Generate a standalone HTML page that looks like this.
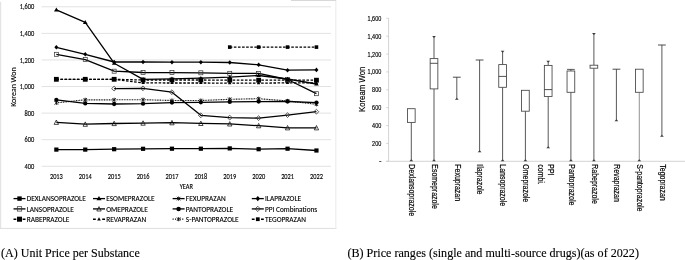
<!DOCTYPE html>
<html><head><meta charset="utf-8"><title>PPI price charts</title>
<style>
html,body{margin:0;padding:0;background:#fff;}
body{width:685px;height:260px;overflow:hidden;position:relative;}
svg{position:absolute;left:0;top:0;display:block;}
.lt{font-family:Carlito, 'Liberation Sans', sans-serif;fill:#000;stroke:#000;stroke-width:0.12px;}
.rt{font-family:'Liberation Sans', Arial, sans-serif;fill:#000;stroke:#000;stroke-width:0.18px;}
.cap{font-family:'Liberation Serif', 'Times New Roman', serif;fill:#000;stroke:#000;stroke-width:0.12px;}
</style></head><body>
<svg width="685" height="260" viewBox="0 0 685 260">
<rect x="0" y="1.8" width="1.2" height="227" fill="#e4e4e4"></rect>
<rect x="0" y="227.9" width="336.5" height="1" fill="#dedede"></rect>
<rect x="335.2" y="0" width="1.2" height="228.5" fill="#eeeeee"></rect>
<rect x="291" y="0" width="45" height="1" fill="#d8d8d8"></rect>
<line x1="41.5" y1="6.8" x2="331" y2="6.8" stroke="#dfdfdf" stroke-width="0.9"></line>
<line x1="41.5" y1="33.38" x2="331" y2="33.38" stroke="#dfdfdf" stroke-width="0.9"></line>
<line x1="41.5" y1="59.96" x2="331" y2="59.96" stroke="#dfdfdf" stroke-width="0.9"></line>
<line x1="41.5" y1="86.54" x2="331" y2="86.54" stroke="#dfdfdf" stroke-width="0.9"></line>
<line x1="41.5" y1="113.12" x2="331" y2="113.12" stroke="#dfdfdf" stroke-width="0.9"></line>
<line x1="41.5" y1="139.7" x2="331" y2="139.7" stroke="#dfdfdf" stroke-width="0.9"></line>
<line x1="41.5" y1="166.28" x2="331" y2="166.28" stroke="#dfdfdf" stroke-width="0.9"></line>
<text transform="translate(34.3,9.45) scale(0.88,1)" text-anchor="end" class="lt" font-size="7.3" textLength="16.59" lengthAdjust="spacingAndGlyphs">1,600</text>
<text transform="translate(34.3,36.03) scale(0.88,1)" text-anchor="end" class="lt" font-size="7.3" textLength="16.59" lengthAdjust="spacingAndGlyphs">1,400</text>
<text transform="translate(34.3,62.61) scale(0.88,1)" text-anchor="end" class="lt" font-size="7.3" textLength="16.59" lengthAdjust="spacingAndGlyphs">1,200</text>
<text transform="translate(34.3,89.19) scale(0.88,1)" text-anchor="end" class="lt" font-size="7.3" textLength="16.59" lengthAdjust="spacingAndGlyphs">1,000</text>
<text transform="translate(34.3,115.77) scale(0.88,1)" text-anchor="end" class="lt" font-size="7.3" textLength="11.08" lengthAdjust="spacingAndGlyphs">800</text>
<text transform="translate(34.3,142.35) scale(0.88,1)" text-anchor="end" class="lt" font-size="7.3" textLength="11.08" lengthAdjust="spacingAndGlyphs">600</text>
<text transform="translate(34.3,168.93) scale(0.88,1)" text-anchor="end" class="lt" font-size="7.3" textLength="11.08" lengthAdjust="spacingAndGlyphs">400</text>
<text transform="translate(15.6,87.1) rotate(-90) scale(0.88,1)" text-anchor="middle" class="lt" font-size="9" textLength="44.91" lengthAdjust="spacingAndGlyphs">Korean Won</text>
<text transform="translate(56.35,178.6) scale(0.87,1)" text-anchor="middle" class="lt" font-size="7.3" textLength="14.77" lengthAdjust="spacingAndGlyphs">2013</text>
<text transform="translate(85.25,178.6) scale(0.87,1)" text-anchor="middle" class="lt" font-size="7.3" textLength="14.77" lengthAdjust="spacingAndGlyphs">2014</text>
<text transform="translate(114.15,178.6) scale(0.87,1)" text-anchor="middle" class="lt" font-size="7.3" textLength="14.77" lengthAdjust="spacingAndGlyphs">2015</text>
<text transform="translate(143.05,178.6) scale(0.87,1)" text-anchor="middle" class="lt" font-size="7.3" textLength="14.77" lengthAdjust="spacingAndGlyphs">2016</text>
<text transform="translate(171.95,178.6) scale(0.87,1)" text-anchor="middle" class="lt" font-size="7.3" textLength="14.77" lengthAdjust="spacingAndGlyphs">2017</text>
<text transform="translate(200.85,178.6) scale(0.87,1)" text-anchor="middle" class="lt" font-size="7.3" textLength="14.77" lengthAdjust="spacingAndGlyphs">2018</text>
<text transform="translate(229.75,178.6) scale(0.87,1)" text-anchor="middle" class="lt" font-size="7.3" textLength="14.77" lengthAdjust="spacingAndGlyphs">2019</text>
<text transform="translate(258.65,178.6) scale(0.87,1)" text-anchor="middle" class="lt" font-size="7.3" textLength="14.77" lengthAdjust="spacingAndGlyphs">2020</text>
<text transform="translate(287.55,178.6) scale(0.87,1)" text-anchor="middle" class="lt" font-size="7.3" textLength="14.77" lengthAdjust="spacingAndGlyphs">2021</text>
<text transform="translate(316.45,178.6) scale(0.87,1)" text-anchor="middle" class="lt" font-size="7.3" textLength="14.77" lengthAdjust="spacingAndGlyphs">2022</text>
<text transform="translate(186.3,188.8) scale(0.9,1)" text-anchor="middle" class="lt" font-size="7.1" textLength="14.82" lengthAdjust="spacingAndGlyphs">YEAR</text>
<path d="M114.15,88.6 L143.05,88.3 L171.95,92.2 L200.85,115.3 L229.75,117.6 L258.65,118.1 L287.55,115.1 L316.45,111.7" fill="none" stroke="#000" stroke-width="1.3" stroke-linejoin="round"></path>
<path d="M114.15,86.2 L116.45,88.6 L114.15,91 L111.65,88.6Z" fill="none" stroke="#333" stroke-width="0.8"></path>
<path d="M143.05,85.9 L145.35,88.3 L143.05,90.7 L140.55,88.3Z" fill="none" stroke="#333" stroke-width="0.8"></path>
<path d="M171.95,89.8 L174.25,92.2 L171.95,94.6 L169.45,92.2Z" fill="none" stroke="#333" stroke-width="0.8"></path>
<path d="M200.85,112.9 L203.15,115.3 L200.85,117.7 L198.35,115.3Z" fill="none" stroke="#333" stroke-width="0.8"></path>
<path d="M229.75,115.2 L232.05,117.6 L229.75,120 L227.25,117.6Z" fill="none" stroke="#333" stroke-width="0.8"></path>
<path d="M258.65,115.7 L260.95,118.1 L258.65,120.5 L256.15,118.1Z" fill="none" stroke="#333" stroke-width="0.8"></path>
<path d="M287.55,112.7 L289.85,115.1 L287.55,117.5 L285.05,115.1Z" fill="none" stroke="#333" stroke-width="0.8"></path>
<path d="M316.45,109.3 L318.75,111.7 L316.45,114.1 L313.95,111.7Z" fill="none" stroke="#333" stroke-width="0.8"></path>
<path d="M56.35,122.3 L85.25,124.2 L114.15,123.5 L143.05,123.1 L171.95,122.7 L200.85,123.4 L229.75,123.9 L258.65,125.7 L287.55,127.8 L316.45,127.8" fill="none" stroke="#000" stroke-width="1.3" stroke-linejoin="round"></path>
<path d="M56.35,120 L58.55,124.4 L54.15,124.4Z" fill="none" stroke="#111" stroke-width="0.75"></path>
<path d="M85.25,121.9 L87.45,126.3 L83.05,126.3Z" fill="none" stroke="#111" stroke-width="0.75"></path>
<path d="M114.15,121.2 L116.35,125.6 L111.95,125.6Z" fill="none" stroke="#111" stroke-width="0.75"></path>
<path d="M143.05,120.8 L145.25,125.2 L140.85,125.2Z" fill="none" stroke="#111" stroke-width="0.75"></path>
<path d="M171.95,120.4 L174.15,124.8 L169.75,124.8Z" fill="none" stroke="#111" stroke-width="0.75"></path>
<path d="M200.85,121.1 L203.05,125.5 L198.65,125.5Z" fill="none" stroke="#111" stroke-width="0.75"></path>
<path d="M229.75,121.6 L231.95,126 L227.55,126Z" fill="none" stroke="#111" stroke-width="0.75"></path>
<path d="M258.65,123.4 L260.85,127.8 L256.45,127.8Z" fill="none" stroke="#111" stroke-width="0.75"></path>
<path d="M287.55,125.5 L289.75,129.9 L285.35,129.9Z" fill="none" stroke="#111" stroke-width="0.75"></path>
<path d="M316.45,125.5 L318.65,129.9 L314.25,129.9Z" fill="none" stroke="#111" stroke-width="0.75"></path>
<path d="M56.35,149.6 L85.25,149.6 L114.15,149.2 L143.05,148.8 L171.95,148.7 L200.85,148.7 L229.75,148.4 L258.65,149.2 L287.55,148.7 L316.45,150.5" fill="none" stroke="#000" stroke-width="1.3" stroke-linejoin="round"></path>
<rect x="54.25" y="147.5" width="4.2" height="4.2" fill="#000"></rect>
<rect x="83.15" y="147.5" width="4.2" height="4.2" fill="#000"></rect>
<rect x="112.05" y="147.1" width="4.2" height="4.2" fill="#000"></rect>
<rect x="140.95" y="146.7" width="4.2" height="4.2" fill="#000"></rect>
<rect x="169.85" y="146.6" width="4.2" height="4.2" fill="#000"></rect>
<rect x="198.75" y="146.6" width="4.2" height="4.2" fill="#000"></rect>
<rect x="227.65" y="146.3" width="4.2" height="4.2" fill="#000"></rect>
<rect x="256.55" y="147.1" width="4.2" height="4.2" fill="#000"></rect>
<rect x="285.45" y="146.6" width="4.2" height="4.2" fill="#000"></rect>
<rect x="314.35" y="148.4" width="4.2" height="4.2" fill="#000"></rect>
<path d="M56.35,102.9 L85.25,99.8 L114.15,99.8 L143.05,99.7 L171.95,100.5 L200.85,100.5 L229.75,99.3 L258.65,98.7 L287.55,100.9 L316.45,104.3" fill="none" stroke="#000" stroke-width="1.15" stroke-dasharray="0.9,0.75" stroke-linejoin="round"></path>
<path d="M54.6,101.15L58.1,104.65M58.1,101.15L54.6,104.65M56.35,100.85L56.35,104.95" stroke="#111" stroke-width="0.9" fill="none"></path>
<path d="M83.5,98.05L87,101.55M87,98.05L83.5,101.55M85.25,97.75L85.25,101.85" stroke="#111" stroke-width="0.9" fill="none"></path>
<path d="M112.4,98.05L115.9,101.55M115.9,98.05L112.4,101.55M114.15,97.75L114.15,101.85" stroke="#111" stroke-width="0.9" fill="none"></path>
<path d="M141.3,97.95L144.8,101.45M144.8,97.95L141.3,101.45M143.05,97.65L143.05,101.75" stroke="#111" stroke-width="0.9" fill="none"></path>
<path d="M170.2,98.75L173.7,102.25M173.7,98.75L170.2,102.25M171.95,98.45L171.95,102.55" stroke="#111" stroke-width="0.9" fill="none"></path>
<path d="M199.1,98.75L202.6,102.25M202.6,98.75L199.1,102.25M200.85,98.45L200.85,102.55" stroke="#111" stroke-width="0.9" fill="none"></path>
<path d="M228,97.55L231.5,101.05M231.5,97.55L228,101.05M229.75,97.25L229.75,101.35" stroke="#111" stroke-width="0.9" fill="none"></path>
<path d="M256.9,96.95L260.4,100.45M260.4,96.95L256.9,100.45M258.65,96.65L258.65,100.75" stroke="#111" stroke-width="0.9" fill="none"></path>
<path d="M285.8,99.15L289.3,102.65M289.3,99.15L285.8,102.65M287.55,98.85L287.55,102.95" stroke="#111" stroke-width="0.9" fill="none"></path>
<path d="M314.7,102.55L318.2,106.05M318.2,102.55L314.7,106.05M316.45,102.25L316.45,106.35" stroke="#111" stroke-width="0.9" fill="none"></path>
<path d="M56.35,99.9 L85.25,103.4 L114.15,104 L143.05,103.7 L171.95,102.6 L200.85,102.3 L229.75,101.9 L258.65,101.6 L287.55,101.5 L316.45,102.7" fill="none" stroke="#000" stroke-width="1.3" stroke-linejoin="round"></path>
<circle cx="56.35" cy="99.9" r="2.15" fill="#000"></circle>
<circle cx="85.25" cy="103.4" r="2.15" fill="#000"></circle>
<circle cx="114.15" cy="104" r="2.15" fill="#000"></circle>
<circle cx="143.05" cy="103.7" r="2.15" fill="#000"></circle>
<circle cx="171.95" cy="102.6" r="2.15" fill="#000"></circle>
<circle cx="200.85" cy="102.3" r="2.15" fill="#000"></circle>
<circle cx="229.75" cy="101.9" r="2.15" fill="#000"></circle>
<circle cx="258.65" cy="101.6" r="2.15" fill="#000"></circle>
<circle cx="287.55" cy="101.5" r="2.15" fill="#000"></circle>
<circle cx="316.45" cy="102.7" r="2.15" fill="#000"></circle>
<path d="M56.35,79.3 L85.25,79.3 L114.15,79.3 L143.05,82.9 L171.95,83 L200.85,83 L229.75,83.1 L258.65,83.1 L287.55,82.9 L316.45,82.9" fill="none" stroke="#000" stroke-width="1.3" stroke-dasharray="2.6,1.5" stroke-linejoin="round"></path>
<path d="M56.35,77.6 L58.05,80.4 L54.65,80.4Z" fill="#000"></path>
<path d="M85.25,77.6 L86.95,80.4 L83.55,80.4Z" fill="#000"></path>
<path d="M114.15,77.6 L115.85,80.4 L112.45,80.4Z" fill="#000"></path>
<path d="M143.05,81.2 L144.75,84 L141.35,84Z" fill="#000"></path>
<path d="M171.95,81.3 L173.65,84.1 L170.25,84.1Z" fill="#000"></path>
<path d="M200.85,81.3 L202.55,84.1 L199.15,84.1Z" fill="#000"></path>
<path d="M229.75,81.4 L231.45,84.2 L228.05,84.2Z" fill="#000"></path>
<path d="M258.65,81.4 L260.35,84.2 L256.95,84.2Z" fill="#000"></path>
<path d="M287.55,81.2 L289.25,84 L285.85,84Z" fill="#000"></path>
<path d="M316.45,81.2 L318.15,84 L314.75,84Z" fill="#000"></path>
<path d="M56.35,79.3 L85.25,79.3 L114.15,79.3 L143.05,80 L171.95,80 L200.85,80 L229.75,80.2 L258.65,80.2 L287.55,80.2 L316.45,80.2" fill="none" stroke="#000" stroke-width="1.3" stroke-dasharray="2.6,1.5" stroke-linejoin="round"></path>
<rect x="53.95" y="76.9" width="4.8" height="4.8" fill="#000"></rect>
<rect x="82.85" y="76.9" width="4.8" height="4.8" fill="#000"></rect>
<rect x="111.75" y="76.9" width="4.8" height="4.8" fill="#000"></rect>
<rect x="140.65" y="77.6" width="4.8" height="4.8" fill="#000"></rect>
<rect x="169.55" y="77.6" width="4.8" height="4.8" fill="#000"></rect>
<rect x="198.45" y="77.6" width="4.8" height="4.8" fill="#000"></rect>
<rect x="227.35" y="77.8" width="4.8" height="4.8" fill="#000"></rect>
<rect x="256.25" y="77.8" width="4.8" height="4.8" fill="#000"></rect>
<rect x="285.15" y="77.8" width="4.8" height="4.8" fill="#000"></rect>
<rect x="314.05" y="77.8" width="4.8" height="4.8" fill="#000"></rect>
<path d="M56.35,54.3 L85.25,59.6 L114.15,71.2 L143.05,72.5 L171.95,72.6 L200.85,72.8 L229.75,73.3 L258.65,73.4 L287.55,79.5 L316.45,93.7" fill="none" stroke="#000" stroke-width="1.3" stroke-linejoin="round"></path>
<rect x="54.35" y="52.3" width="4" height="4" fill="none" stroke="#333" stroke-width="0.7"></rect>
<rect x="83.25" y="57.6" width="4" height="4" fill="none" stroke="#333" stroke-width="0.7"></rect>
<rect x="112.15" y="69.2" width="4" height="4" fill="none" stroke="#333" stroke-width="0.7"></rect>
<rect x="141.05" y="70.5" width="4" height="4" fill="none" stroke="#333" stroke-width="0.7"></rect>
<rect x="169.95" y="70.6" width="4" height="4" fill="none" stroke="#333" stroke-width="0.7"></rect>
<rect x="198.85" y="70.8" width="4" height="4" fill="none" stroke="#333" stroke-width="0.7"></rect>
<rect x="227.75" y="71.3" width="4" height="4" fill="none" stroke="#333" stroke-width="0.7"></rect>
<rect x="256.65" y="71.4" width="4" height="4" fill="none" stroke="#333" stroke-width="0.7"></rect>
<rect x="285.55" y="77.5" width="4" height="4" fill="none" stroke="#333" stroke-width="0.7"></rect>
<rect x="314.45" y="91.7" width="4" height="4" fill="none" stroke="#333" stroke-width="0.7"></rect>
<path d="M56.35,9.9 L85.25,22.4 L114.15,63.2 L143.05,79.4 L171.95,78.8 L200.85,78.2 L229.75,77.2 L258.65,75.5 L287.55,79 L316.45,84" fill="none" stroke="#000" stroke-width="1.3" stroke-linejoin="round"></path>
<path d="M56.35,7.6 L58.65,11.5 L54.05,11.5Z" fill="#000"></path>
<path d="M85.25,20.1 L87.55,24 L82.95,24Z" fill="#000"></path>
<path d="M114.15,60.9 L116.45,64.8 L111.85,64.8Z" fill="#000"></path>
<path d="M143.05,77.1 L145.35,81 L140.75,81Z" fill="#000"></path>
<path d="M171.95,76.5 L174.25,80.4 L169.65,80.4Z" fill="#000"></path>
<path d="M200.85,75.9 L203.15,79.8 L198.55,79.8Z" fill="#000"></path>
<path d="M229.75,74.9 L232.05,78.8 L227.45,78.8Z" fill="#000"></path>
<path d="M258.65,73.2 L260.95,77.1 L256.35,77.1Z" fill="#000"></path>
<path d="M287.55,76.7 L289.85,80.6 L285.25,80.6Z" fill="#000"></path>
<path d="M316.45,81.7 L318.75,85.6 L314.15,85.6Z" fill="#000"></path>
<path d="M56.35,47.3 L85.25,54.3 L114.15,62 L143.05,62 L171.95,62.2 L200.85,62.2 L229.75,62.5 L258.65,64.8 L287.55,70.2 L316.45,69.9" fill="none" stroke="#000" stroke-width="1.3" stroke-linejoin="round"></path>
<path d="M56.35,45 L58.35,47.3 L56.35,49.6 L54.35,47.3Z" fill="#000"></path>
<path d="M85.25,52 L87.25,54.3 L85.25,56.6 L83.25,54.3Z" fill="#000"></path>
<path d="M114.15,59.7 L116.15,62 L114.15,64.3 L112.15,62Z" fill="#000"></path>
<path d="M143.05,59.7 L145.05,62 L143.05,64.3 L141.05,62Z" fill="#000"></path>
<path d="M171.95,59.9 L173.95,62.2 L171.95,64.5 L169.95,62.2Z" fill="#000"></path>
<path d="M200.85,59.9 L202.85,62.2 L200.85,64.5 L198.85,62.2Z" fill="#000"></path>
<path d="M229.75,60.2 L231.75,62.5 L229.75,64.8 L227.75,62.5Z" fill="#000"></path>
<path d="M258.65,62.5 L260.65,64.8 L258.65,67.1 L256.65,64.8Z" fill="#000"></path>
<path d="M287.55,67.9 L289.55,70.2 L287.55,72.5 L285.55,70.2Z" fill="#000"></path>
<path d="M316.45,67.6 L318.45,69.9 L316.45,72.2 L314.45,69.9Z" fill="#000"></path>
<path d="M229.75,47.1 L258.65,47.1 L287.55,47.1 L316.45,47.1" fill="none" stroke="#000" stroke-width="1.3" stroke-dasharray="2.6,1.5" stroke-linejoin="round"></path>
<rect x="227.95" y="45.3" width="3.6" height="3.6" fill="#000"></rect>
<rect x="256.85" y="45.3" width="3.6" height="3.6" fill="#000"></rect>
<rect x="285.75" y="45.3" width="3.6" height="3.6" fill="#000"></rect>
<rect x="314.65" y="45.3" width="3.6" height="3.6" fill="#000"></rect>
<path d="M13.5,198.6 L25.5,198.6" stroke="#000" stroke-width="1.3"></path>
<rect x="17.3" y="196.39" width="4.41" height="4.41" fill="#000"></rect>
<text transform="translate(26.7,201.35) scale(0.9,1)" class="lt" font-size="8.15" textLength="65.62" lengthAdjust="spacingAndGlyphs">DEXLANSOPRAZOLE</text>
<path d="M93,198.6 L105,198.6" stroke="#000" stroke-width="1.3"></path>
<path d="M99,196.07 L101.53,200.36 L96.47,200.36Z" fill="#000"></path>
<text transform="translate(106.2,201.35) scale(0.9,1)" class="lt" font-size="8.15" textLength="53.86" lengthAdjust="spacingAndGlyphs">ESOMEPRAZOLE</text>
<path d="M172.6,198.6 L184.6,198.6" stroke="#000" stroke-width="1.3"></path>
<path d="M176.85,196.85L180.35,200.35M180.35,196.85L176.85,200.35M178.6,196.55L178.6,200.65" stroke="#111" stroke-width="0.9" fill="none"></path>
<text transform="translate(185.8,201.35) scale(0.9,1)" class="lt" font-size="8.15" textLength="44.28" lengthAdjust="spacingAndGlyphs">FEXUPRAZAN</text>
<path d="M251.8,198.6 L263.8,198.6" stroke="#000" stroke-width="1.3"></path>
<path d="M257.8,196.07 L260,198.6 L257.8,201.13 L255.6,198.6Z" fill="#000"></path>
<text transform="translate(265,201.35) scale(0.9,1)" class="lt" font-size="8.15" textLength="40.06" lengthAdjust="spacingAndGlyphs">ILAPRAZOLE</text>
<path d="M13.5,208.9 L25.5,208.9" stroke="#000" stroke-width="1.3"></path>
<rect x="17.3" y="206.7" width="4.4" height="4.4" fill="none" stroke="#333" stroke-width="0.7"></rect>
<text transform="translate(26.7,211.65) scale(0.9,1)" class="lt" font-size="8.15" textLength="52.41" lengthAdjust="spacingAndGlyphs">LANSOPRAZOLE</text>
<path d="M93,208.9 L105,208.9" stroke="#000" stroke-width="1.3"></path>
<path d="M99,206.6 L101.2,211 L96.8,211Z" fill="none" stroke="#111" stroke-width="0.75"></path>
<text transform="translate(106.2,211.65) scale(0.9,1)" class="lt" font-size="8.15" textLength="46.20" lengthAdjust="spacingAndGlyphs">OMEPRAZOLE</text>
<path d="M172.6,208.9 L184.6,208.9" stroke="#000" stroke-width="1.3"></path>
<circle cx="178.6" cy="208.9" r="2.26" fill="#000"></circle>
<text transform="translate(185.8,211.65) scale(0.9,1)" class="lt" font-size="8.15" textLength="52.58" lengthAdjust="spacingAndGlyphs">PANTOPRAZOLE</text>
<path d="M251.8,208.9 L263.8,208.9" stroke="#000" stroke-width="1.3"></path>
<path d="M257.8,206.26 L260.33,208.9 L257.8,211.54 L255.05,208.9Z" fill="none" stroke="#333" stroke-width="0.8"></path>
<text transform="translate(265,211.65) scale(0.9,1)" class="lt" font-size="8.15" textLength="58.03" lengthAdjust="spacingAndGlyphs">PPI Combinations</text>
<path d="M13.5,219.2 L16.3,219.2 M22.7,219.2 L25.5,219.2" stroke="#000" stroke-width="1.45"></path>
<rect x="16.98" y="216.68" width="5.04" height="5.04" fill="#000"></rect>
<text transform="translate(26.7,221.95) scale(0.9,1)" class="lt" font-size="8.15" textLength="47.42" lengthAdjust="spacingAndGlyphs">RABEPRAZOLE</text>
<path d="M93,219.2 L95.8,219.2 M102.2,219.2 L105,219.2" stroke="#000" stroke-width="1.45"></path>
<path d="M99,217.33 L100.87,220.41 L97.13,220.41Z" fill="#000"></path>
<text transform="translate(106.2,221.95) scale(0.9,1)" class="lt" font-size="8.15" textLength="44.45" lengthAdjust="spacingAndGlyphs">REVAPRAZAN</text>
<path d="M172.6,219.2 L184.6,219.2" stroke="#000" stroke-width="1.2" stroke-dasharray="1.1,1.3"></path>
<path d="M176.85,217.45L180.35,220.95M180.35,217.45L176.85,220.95M178.6,217.15L178.6,221.25" stroke="#111" stroke-width="0.9" fill="none"></path>
<text transform="translate(185.8,221.95) scale(0.9,1)" class="lt" font-size="8.15" textLength="58.78" lengthAdjust="spacingAndGlyphs">S-PANTOPRAZOLE</text>
<path d="M251.8,219.2 L254.6,219.2 M261,219.2 L263.8,219.2" stroke="#000" stroke-width="1.45"></path>
<rect x="255.91" y="217.31" width="3.78" height="3.78" fill="#000"></rect>
<text transform="translate(265,221.95) scale(0.9,1)" class="lt" font-size="8.15" textLength="45.48" lengthAdjust="spacingAndGlyphs">TEGOPRAZAN</text>
<line x1="388.6" y1="18.3" x2="388.6" y2="161.3" stroke="#c8c8c8" stroke-width="0.8"></line>
<line x1="386.3" y1="161.3" x2="685" y2="161.3" stroke="#c8c8c8" stroke-width="0.8"></line>
<line x1="386.3" y1="161.3" x2="388.6" y2="161.3" stroke="#c8c8c8" stroke-width="0.8"></line>
<text x="381.6" y="163.4" text-anchor="end" class="rt" font-size="7.5" textLength="2.50" lengthAdjust="spacingAndGlyphs">-</text>
<line x1="386.3" y1="143.43" x2="388.6" y2="143.43" stroke="#c8c8c8" stroke-width="0.8"></line>
<text transform="translate(381.3,145.88) scale(0.69,1)" text-anchor="end" class="rt" font-size="8" textLength="13.33" lengthAdjust="spacingAndGlyphs">200</text>
<line x1="386.3" y1="125.55" x2="388.6" y2="125.55" stroke="#c8c8c8" stroke-width="0.8"></line>
<text transform="translate(381.3,128) scale(0.69,1)" text-anchor="end" class="rt" font-size="8" textLength="13.33" lengthAdjust="spacingAndGlyphs">400</text>
<line x1="386.3" y1="107.68" x2="388.6" y2="107.68" stroke="#c8c8c8" stroke-width="0.8"></line>
<text transform="translate(381.3,110.13) scale(0.69,1)" text-anchor="end" class="rt" font-size="8" textLength="13.33" lengthAdjust="spacingAndGlyphs">600</text>
<line x1="386.3" y1="89.8" x2="388.6" y2="89.8" stroke="#c8c8c8" stroke-width="0.8"></line>
<text transform="translate(381.3,92.25) scale(0.69,1)" text-anchor="end" class="rt" font-size="8" textLength="13.33" lengthAdjust="spacingAndGlyphs">800</text>
<line x1="386.3" y1="71.93" x2="388.6" y2="71.93" stroke="#c8c8c8" stroke-width="0.8"></line>
<text transform="translate(381.3,74.38) scale(0.69,1)" text-anchor="end" class="rt" font-size="8" textLength="19.99" lengthAdjust="spacingAndGlyphs">1,000</text>
<line x1="386.3" y1="54.05" x2="388.6" y2="54.05" stroke="#c8c8c8" stroke-width="0.8"></line>
<text transform="translate(381.3,56.5) scale(0.69,1)" text-anchor="end" class="rt" font-size="8" textLength="19.99" lengthAdjust="spacingAndGlyphs">1,200</text>
<line x1="386.3" y1="36.18" x2="388.6" y2="36.18" stroke="#c8c8c8" stroke-width="0.8"></line>
<text transform="translate(381.3,38.63) scale(0.69,1)" text-anchor="end" class="rt" font-size="8" textLength="19.99" lengthAdjust="spacingAndGlyphs">1,400</text>
<line x1="386.3" y1="18.3" x2="388.6" y2="18.3" stroke="#c8c8c8" stroke-width="0.8"></line>
<text transform="translate(381.3,20.75) scale(0.69,1)" text-anchor="end" class="rt" font-size="8" textLength="19.99" lengthAdjust="spacingAndGlyphs">1,600</text>
<text transform="translate(364.7,89.3) rotate(-90)" text-anchor="middle" class="rt" font-size="9" textLength="45.5" lengthAdjust="spacingAndGlyphs">Koream Won</text>
<line x1="411.3" y1="122.4" x2="411.3" y2="161" stroke="#3a3a3a" stroke-width="0.85"></line>
<rect x="407.45" y="108.7" width="7.7" height="13.7" fill="#fff" stroke="#444" stroke-width="0.85"></rect>
<path d="M409.4,161.3 L413.2,161.3 L411.3,159.3Z" fill="#3a3a3a"></path>
<line x1="434" y1="36.9" x2="434" y2="58.6" stroke="#3a3a3a" stroke-width="0.85"></line>
<line x1="434" y1="88.9" x2="434" y2="161" stroke="#3a3a3a" stroke-width="0.85"></line>
<rect x="430.15" y="58.6" width="7.7" height="30.3" fill="#fff" stroke="#444" stroke-width="0.85"></rect>
<line x1="430.15" y1="63.3" x2="437.85" y2="63.3" stroke="#333" stroke-width="0.85"></line>
<path d="M432.1,36 L435.9,36 L434,38Z" fill="#3a3a3a"></path>
<path d="M432.1,161.3 L435.9,161.3 L434,159.3Z" fill="#3a3a3a"></path>
<line x1="456.8" y1="77.2" x2="456.8" y2="98.8" stroke="#3a3a3a" stroke-width="0.85"></line>
<line x1="452.9" y1="77.2" x2="460.7" y2="77.2" stroke="#3a3a3a" stroke-width="0.9"></line>
<path d="M454.9,99.7 L458.7,99.7 L456.8,97.7Z" fill="#3a3a3a"></path>
<line x1="479.6" y1="60" x2="479.6" y2="151.4" stroke="#3a3a3a" stroke-width="0.85"></line>
<line x1="475.7" y1="60" x2="483.5" y2="60" stroke="#3a3a3a" stroke-width="0.9"></line>
<path d="M477.7,152.3 L481.5,152.3 L479.6,150.3Z" fill="#3a3a3a"></path>
<line x1="502.6" y1="51.6" x2="502.6" y2="64.6" stroke="#3a3a3a" stroke-width="0.85"></line>
<line x1="502.6" y1="87.3" x2="502.6" y2="161" stroke="#3a3a3a" stroke-width="0.85"></line>
<rect x="498.75" y="64.6" width="7.7" height="22.7" fill="#fff" stroke="#444" stroke-width="0.85"></rect>
<line x1="498.75" y1="76.4" x2="506.45" y2="76.4" stroke="#333" stroke-width="0.85"></line>
<path d="M500.7,50.7 L504.5,50.7 L502.6,52.7Z" fill="#3a3a3a"></path>
<path d="M500.7,161.3 L504.5,161.3 L502.6,159.3Z" fill="#3a3a3a"></path>
<line x1="525.4" y1="111.2" x2="525.4" y2="161" stroke="#3a3a3a" stroke-width="0.85"></line>
<rect x="521.55" y="90.3" width="7.7" height="20.9" fill="#fff" stroke="#444" stroke-width="0.85"></rect>
<path d="M523.5,161.3 L527.3,161.3 L525.4,159.3Z" fill="#3a3a3a"></path>
<line x1="548.2" y1="61.6" x2="548.2" y2="65.4" stroke="#3a3a3a" stroke-width="0.85"></line>
<line x1="548.2" y1="96.5" x2="548.2" y2="147.3" stroke="#3a3a3a" stroke-width="0.85"></line>
<rect x="544.35" y="65.4" width="7.7" height="31.1" fill="#fff" stroke="#444" stroke-width="0.85"></rect>
<line x1="544.35" y1="89.6" x2="552.05" y2="89.6" stroke="#333" stroke-width="0.85"></line>
<path d="M546.3,60.7 L550.1,60.7 L548.2,62.7Z" fill="#3a3a3a"></path>
<path d="M546.3,148.2 L550.1,148.2 L548.2,146.2Z" fill="#3a3a3a"></path>
<line x1="570.9" y1="69.4" x2="570.9" y2="71" stroke="#3a3a3a" stroke-width="0.85"></line>
<line x1="570.9" y1="92.3" x2="570.9" y2="161" stroke="#3a3a3a" stroke-width="0.85"></line>
<rect x="567.05" y="71" width="7.7" height="21.3" fill="#fff" stroke="#444" stroke-width="0.85"></rect>
<line x1="567.05" y1="69.4" x2="574.75" y2="69.4" stroke="#333" stroke-width="0.8"></line>
<path d="M569,161.3 L572.8,161.3 L570.9,159.3Z" fill="#3a3a3a"></path>
<line x1="593.9" y1="33.9" x2="593.9" y2="65.2" stroke="#3a3a3a" stroke-width="0.85"></line>
<line x1="593.9" y1="68.2" x2="593.9" y2="161" stroke="#3a3a3a" stroke-width="0.85"></line>
<rect x="590.05" y="65.2" width="7.7" height="3" fill="#fff" stroke="#444" stroke-width="0.85"></rect>
<path d="M592,33 L595.8,33 L593.9,35Z" fill="#3a3a3a"></path>
<path d="M592,161.3 L595.8,161.3 L593.9,159.3Z" fill="#3a3a3a"></path>
<line x1="616.4" y1="69.2" x2="616.4" y2="120.3" stroke="#3a3a3a" stroke-width="0.85"></line>
<line x1="612.5" y1="69.2" x2="620.3" y2="69.2" stroke="#3a3a3a" stroke-width="0.9"></line>
<path d="M614.5,121.2 L618.3,121.2 L616.4,119.2Z" fill="#3a3a3a"></path>
<line x1="639.3" y1="92.3" x2="639.3" y2="161" stroke="#9a9a9a" stroke-width="1.1"></line>
<rect x="635.45" y="69.2" width="7.7" height="23.1" fill="#fff" stroke="#444" stroke-width="0.85"></rect>
<path d="M637.4,161.3 L641.2,161.3 L639.3,159.3Z" fill="#3a3a3a"></path>
<line x1="661.9" y1="45" x2="661.9" y2="135.8" stroke="#3a3a3a" stroke-width="0.85"></line>
<line x1="658" y1="45" x2="665.8" y2="45" stroke="#3a3a3a" stroke-width="0.9"></line>
<path d="M660,136.7 L663.8,136.7 L661.9,134.7Z" fill="#3a3a3a"></path>
<text transform="translate(409.1,164.3) rotate(90) scale(0.83,1)" class="rt" font-size="8.4" textLength="62.45" lengthAdjust="spacingAndGlyphs">Dexlansoprazole</text>
<text transform="translate(431.8,164.3) rotate(90) scale(0.83,1)" class="rt" font-size="8.4" textLength="53.59" lengthAdjust="spacingAndGlyphs">Esomeprazole</text>
<text transform="translate(454.6,164.3) rotate(90) scale(0.83,1)" class="rt" font-size="8.4" textLength="44.28" lengthAdjust="spacingAndGlyphs">Fexuprazan</text>
<text transform="translate(477.4,164.3) rotate(90) scale(0.83,1)" class="rt" font-size="8.4" textLength="36.35" lengthAdjust="spacingAndGlyphs">Ilaprazole</text>
<text transform="translate(500.4,164.3) rotate(90) scale(0.83,1)" class="rt" font-size="8.4" textLength="50.35" lengthAdjust="spacingAndGlyphs">Lansoprazole</text>
<text transform="translate(523.2,164.3) rotate(90) scale(0.83,1)" class="rt" font-size="8.4" textLength="45.67" lengthAdjust="spacingAndGlyphs">Omeprazole</text>
<text transform="translate(547.8,164.3) rotate(90) scale(0.83,1)" class="rt" font-size="8.4" textLength="13.52" lengthAdjust="spacingAndGlyphs">PPI</text>
<text transform="translate(538.1,164.3) rotate(90) scale(0.83,1)" class="rt" font-size="8.4" textLength="24.71" lengthAdjust="spacingAndGlyphs">combi.</text>
<text transform="translate(568.7,164.3) rotate(90) scale(0.83,1)" class="rt" font-size="8.4" textLength="49.41" lengthAdjust="spacingAndGlyphs">Pantoprazole</text>
<text transform="translate(591.7,164.3) rotate(90) scale(0.83,1)" class="rt" font-size="8.4" textLength="47.54" lengthAdjust="spacingAndGlyphs">Rabeprazole</text>
<text transform="translate(614.2,164.3) rotate(90) scale(0.83,1)" class="rt" font-size="8.4" textLength="45.21" lengthAdjust="spacingAndGlyphs">Revaprazan</text>
<text transform="translate(637.1,164.3) rotate(90) scale(0.83,1)" class="rt" font-size="8.4" textLength="56.86" lengthAdjust="spacingAndGlyphs">S-pantoprazole</text>
<text transform="translate(659.7,164.3) rotate(90) scale(0.83,1)" class="rt" font-size="8.4" textLength="43.82" lengthAdjust="spacingAndGlyphs">Tegoprazan</text>
<text x="1.1" y="256.8" class="cap" font-size="12" textLength="138.64" lengthAdjust="spacingAndGlyphs">(A) Unit Price per Substance</text>
<text x="347.4" y="256.8" class="cap" font-size="12.1" textLength="291.52" lengthAdjust="spacingAndGlyphs">(B) Price ranges (single and multi-source drugs)(as of 2022)</text>
</svg>

</body></html>
